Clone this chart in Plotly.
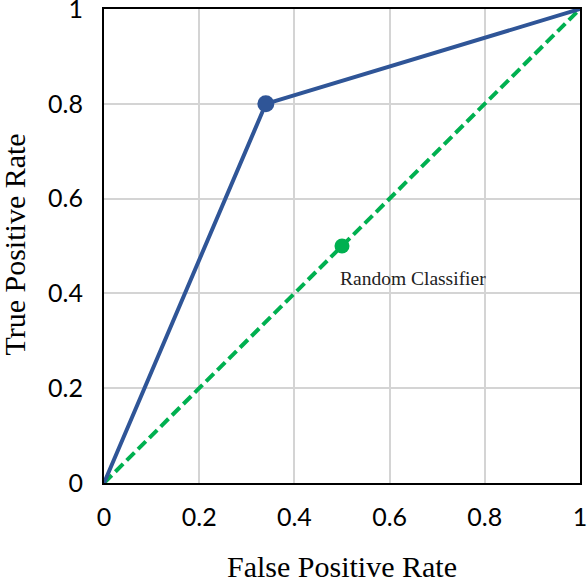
import plotly.graph_objects as go

roc_fpr = [0, 0.34, 1]
roc_tpr = [0, 0.8, 1]
rand_fpr = [0, 1]
rand_tpr = [0, 1]
point_fpr = [0.34]
point_tpr = [0.8]
rand_pt_fpr = [0.5]
rand_pt_tpr = [0.5]
tick_vals = [0, 0.2, 0.4, 0.6, 0.8, 1]
tick_text = ["0", "0.2", "0.4", "0.6", "0.8", "1"]

fig = go.Figure()
fig.add_trace(go.Scatter(x=rand_fpr, y=rand_tpr, mode="lines",
                         line=dict(color="#00B050", width=4, dash="11px,5px"),
                         showlegend=False, cliponaxis=False))
fig.add_trace(go.Scatter(x=roc_fpr, y=roc_tpr, mode="lines",
                         line=dict(color="#2F5597", width=4),
                         showlegend=False, cliponaxis=False))
fig.add_trace(go.Scatter(x=point_fpr, y=point_tpr, mode="markers",
                         marker=dict(color="#2F5597", size=17),
                         showlegend=False))
fig.add_trace(go.Scatter(x=rand_pt_fpr, y=rand_pt_tpr, mode="markers",
                         marker=dict(color="#00B050", size=15),
                         showlegend=False))
fig.add_annotation(x=0.4916, y=0.4325, text="Random Classifier", showarrow=False,
                   xanchor="left", yanchor="middle",
                   font=dict(family="Liberation Serif", size=19.5, color="#222"))
fig.add_annotation(x=0.501, y=-0.176, xref="paper", yref="paper",
                   text="False Positive Rate", showarrow=False,
                   xanchor="center", yanchor="middle",
                   font=dict(family="Liberation Serif", size=30, color="black"))
fig.add_annotation(x=-0.188, y=0.502, xref="paper", yref="paper",
                   text="True Positive Rate", showarrow=False, textangle=-90,
                   xanchor="center", yanchor="middle",
                   font=dict(family="Liberation Serif", size=30, color="black"))

axis_common = dict(range=[0, 1], tickvals=tick_vals, ticktext=tick_text,
                   showgrid=True, gridcolor="#d4d4d4", gridwidth=1.8,
                   showline=True, linecolor="black", linewidth=2, mirror=True,
                   zeroline=False, ticks="", automargin=False,
                   ticklabeloverflow="allow",
                   tickfont=dict(family="Lato", size=25, color="black"))

fig.update_layout(
    width=587, height=579,
    margin=dict(l=104, r=7, t=9, b=96),
    plot_bgcolor="white", paper_bgcolor="white",
    xaxis=dict(**axis_common, ticklabelstandoff=11),
    yaxis=dict(**axis_common, ticklabelstandoff=14),
)
fig.write_html("out.html", config={"displayModeBar": False},
               post_script="document.body.style.margin='0';")
